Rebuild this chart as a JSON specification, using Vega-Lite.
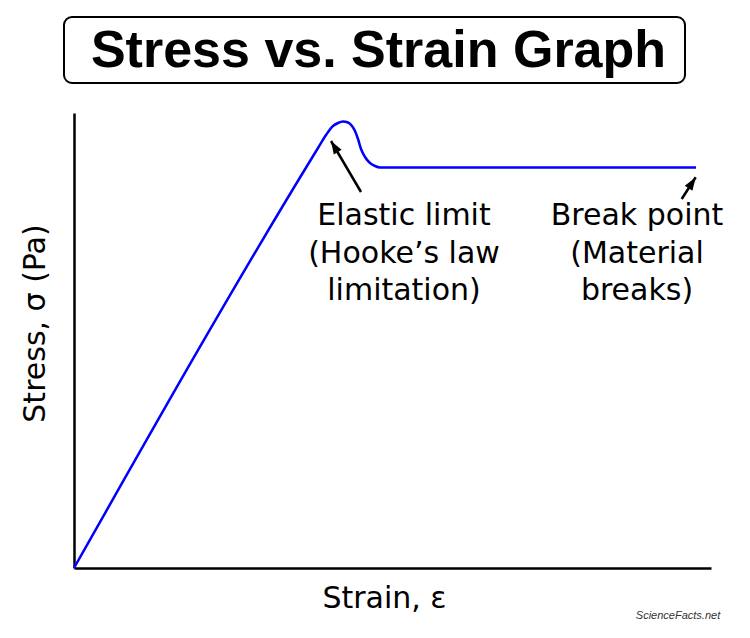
{
  "$schema": "https://vega.github.io/schema/vega-lite/v6.json",
  "background": "white",
  "padding": {"left": 20, "top": 16, "right": 5, "bottom": 5},
  "width": 637,
  "height": 455,
  "config": {
    "view": {"stroke": null},
    "text": {"font": "DejaVu Sans", "color": "black"}
  },
  "encoding": {
    "x": {
      "field": "x",
      "type": "quantitative",
      "scale": {"domain": [0, 637], "nice": false, "zero": false},
      "axis": {
        "title": "Strain, ε",
        "labels": false,
        "ticks": false,
        "grid": false,
        "domainColor": "black",
        "domainWidth": 2.5,
        "titleFont": "DejaVu Sans",
        "titleFontSize": 30,
        "titleFontWeight": "normal",
        "titleColor": "black",
        "titleX": 310,
        "titleY": 39,
        "titleAlign": "center",
        "titleBaseline": "alphabetic"
      }
    },
    "y": {
      "field": "y",
      "type": "quantitative",
      "scale": {"domain": [0, 455], "nice": false, "zero": false},
      "axis": {
        "title": "Stress, σ (Pa)",
        "labels": false,
        "ticks": false,
        "grid": false,
        "domainColor": "black",
        "domainWidth": 2.5,
        "titleFont": "DejaVu Sans",
        "titleFontSize": 30,
        "titleFontWeight": "normal",
        "titleColor": "black",
        "titleX": -30,
        "titleY": 210,
        "titleAlign": "center",
        "titleBaseline": "alphabetic"
      }
    }
  },
  "layer": [
    {
      "data": {"values": [{"x": -10, "x2": 611, "y": 485, "y2": 551}]},
      "mark": {"type": "rect", "fill": "white", "stroke": "black", "strokeWidth": 2, "cornerRadius": 8, "clip": false},
      "encoding": {"x2": {"field": "x2"}, "y2": {"field": "y2"}}
    },
    {
      "data": {"values": [{"title": "Stress vs. Strain Graph", "x": 304.5, "y": 518}]},
      "mark": {"type": "text", "font": "Liberation Sans", "fontSize": 52, "fontWeight": "bold", "baseline": "middle", "align": "center", "dy": 1},
      "encoding": {"text": {"field": "title"}}
    },
    {
      "data": {
        "values": [
          {"x": 0, "y": 0},
          {"x": 244, "y": 420},
          {"x": 252, "y": 433},
          {"x": 259, "y": 442},
          {"x": 264, "y": 445},
          {"x": 269, "y": 446.5},
          {"x": 274, "y": 445.5},
          {"x": 278, "y": 442},
          {"x": 281, "y": 437},
          {"x": 284, "y": 429},
          {"x": 287, "y": 419},
          {"x": 291, "y": 411},
          {"x": 296, "y": 405},
          {"x": 301, "y": 402},
          {"x": 306, "y": 400.5},
          {"x": 622, "y": 400.5}
        ]
      },
      "mark": {"type": "line", "color": "#0000ff", "strokeWidth": 2.5, "interpolate": "monotone", "clip": false}
    },
    {
      "data": {
        "values": [
          {"arrow": "elastic", "x": 287, "y": 376, "x2": 257, "y2": 427},
          {"arrow": "break", "x": 607.7, "y": 369, "x2": 621.7, "y2": 390.7}
        ]
      },
      "mark": {"type": "rule", "color": "black", "strokeWidth": 2.5},
      "encoding": {"x2": {"field": "x2"}, "y2": {"field": "y2"}}
    },
    {
      "data": {"values": [{"arrow": "elastic", "x": 257, "y": 427}]},
      "mark": {"type": "point", "shape": "M0,0L-0.7,2L0.7,2Z", "filled": true, "color": "black", "opacity": 1, "size": 169, "angle": 329, "strokeWidth": 0}
    },
    {
      "data": {"values": [{"arrow": "break", "x": 621.7, "y": 390.7}]},
      "mark": {"type": "point", "shape": "M0,0L-0.7,2L0.7,2Z", "filled": true, "color": "black", "opacity": 1, "size": 169, "angle": 33, "strokeWidth": 0}
    },
    {
      "data": {
        "values": [
          {"label": ["Elastic limit", "(Hooke’s law", "limitation)"], "x": 330, "y": 343},
          {"label": ["Break point", "(Material", "breaks)"], "x": 563, "y": 343}
        ]
      },
      "mark": {"type": "text", "fontSize": 30, "lineHeight": 37.5, "align": "center", "baseline": "alphabetic"},
      "encoding": {"text": {"field": "label"}}
    },
    {
      "data": {"values": [{"label": "ScienceFacts.net", "x": 604, "y": -48}]},
      "mark": {"type": "text", "font": "Liberation Sans", "fontSize": 11, "fontStyle": "italic", "color": "#333333", "align": "center", "baseline": "middle"},
      "encoding": {"text": {"field": "label"}}
    }
  ]
}
